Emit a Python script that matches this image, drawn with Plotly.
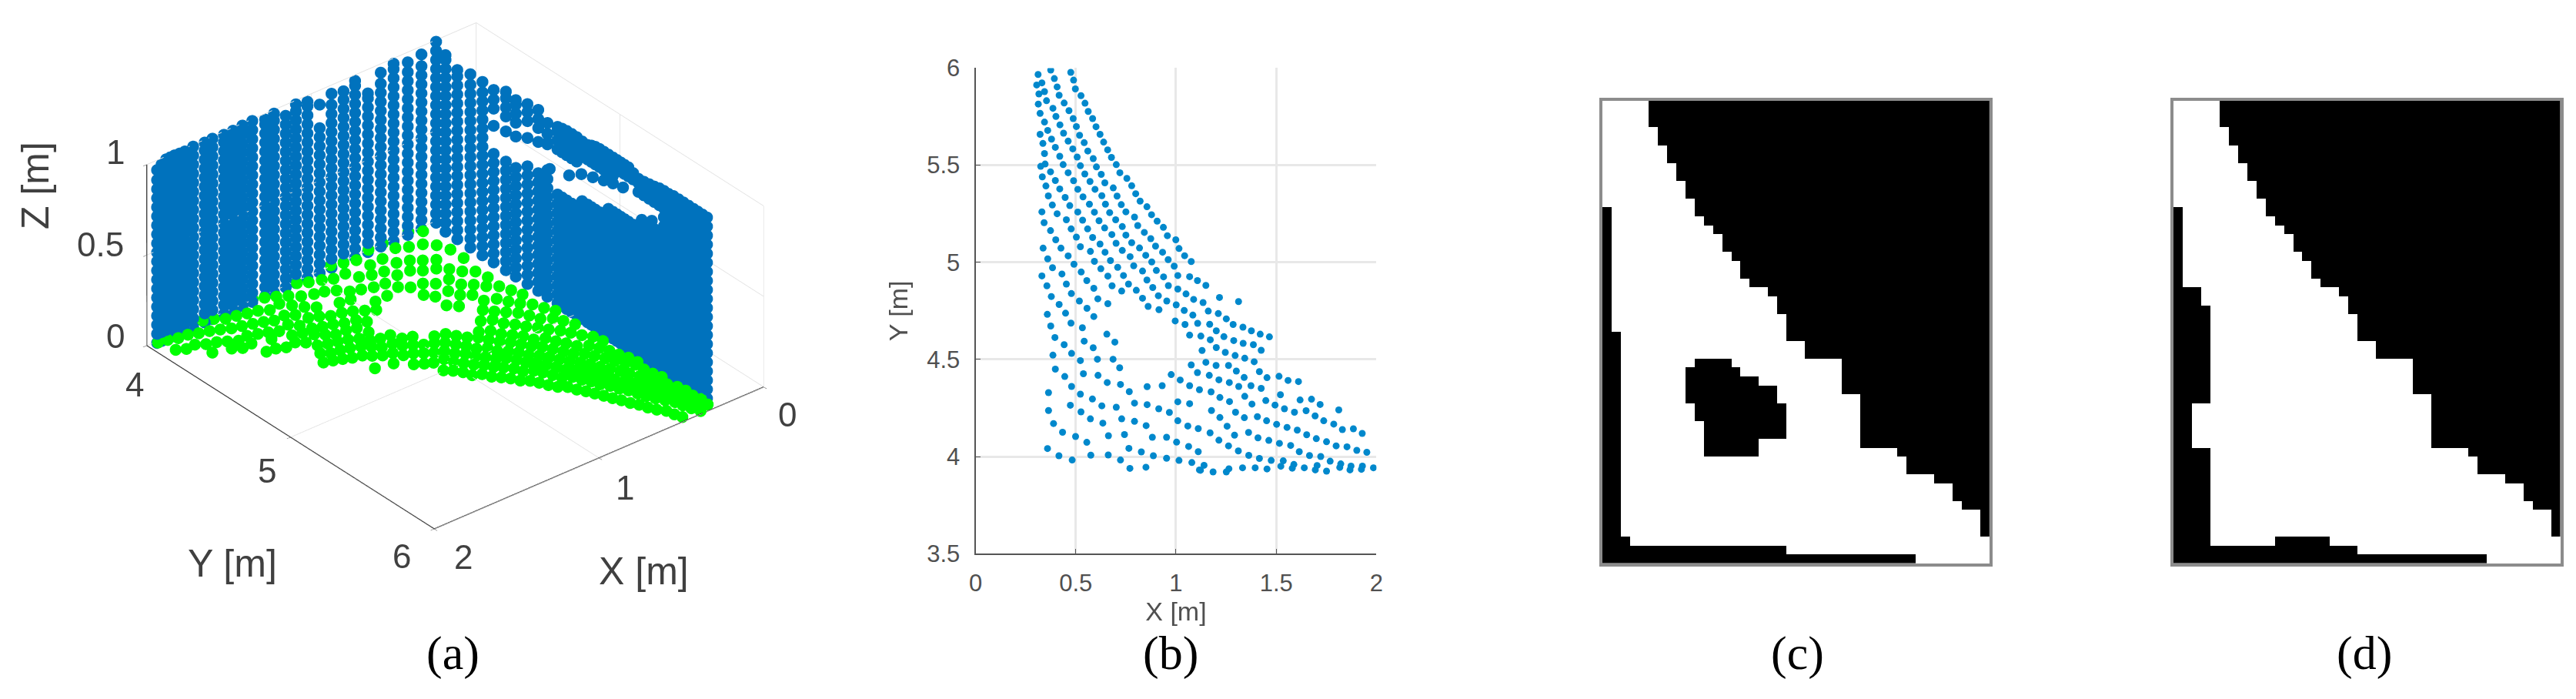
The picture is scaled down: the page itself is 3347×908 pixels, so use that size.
import plotly.graph_objects as go

W, H = 3347, 908

# floor points, metres
floor_x = [
    .475, .489, .498, .526, .546, .562, .584, .601, .621, .639, .659, .678, .702, .720, .755, .779, .799, .821, .855, .878,
    .906, .937, .957, .999, 1.015, 1.043, 1.076,
    .375, .393, .407, .417, .442, .466, .487, .503, .519, .542, .560, .587, .603, .627, .645, .687, .706, .727, .750, .793,
    .809, .842, .874, .898, .933,
    .312, .331, .305, .344, .316, .354, .313, .386, .322, .401, .344, .421, .360, .322, .439, .379, .462, .336, .398, .485,
    .344, .420, .507, .437, .347, .325, .523, .374, .462, .545, .333, .398, .489, .571, .351, .420, .510, .596, .363, .447,
    .536, .630, .383, .470, .568, .648, .331, .407, .510, .593, .669, .342, .453, .534, .616, .699, .374, .477, .559, .644,
    .732, .400, .503, .584, .680, .750, .337, .426, .523, .621, .701, .779, .462, .573, .646, .732, .818, .849, .771,
    .360, .593, .673, .879, .961, .491, .384, .625, .709, .789, .833, .902, .991, .331, .431, .527, .660, .738, .855, .938,
    1.009, 1.068, 1.107, .356, .453, .555, .590, .681, .763, .729, .802, .884, .962, 1.009, 1.050, 1.088, .378, .478, .518,
    .610, .660, .833, .912, .954, 1.001, 1.041, 1.084, .417, .556, .861, .915, .358, .449, .590, .996, 1.045, 1.108, .375,
    .476, .533, .655, 1.068, .396, .542, .695, .442, .587, .479, .386, .523, .608, .686, .398, .719, .445, .538, .611, .976,
    1.076, 1.107, .479, .657, .723, .856, .931, 1.021, 1.068, .364, .523, .767, .583, .793, .856, 1.009, 1.068, .473, .630,
    .702, .364, .526, .914, .967, .573, .729, .793, 1.009, .389, .635, .851, 1.059, 1.111, .434, .499, .663, .743, .882,
    .953, 1.003, 1.063, 1.111, .555, .765, .359, .827, .416, .662, .575, .887, .482, .723, .953, 1.015, 1.079, .770, .850,
    1.117, 1.149, 1.135, 1.217, 1.312, 1.161, 1.211, 1.251, 1.285, 1.168, 1.334, 1.376, 1.420, 1.466, 1.201, 1.124, 1.239,
    1.171, 1.288, 1.335, 1.386, 1.425, 1.130, 1.201, 1.246, 1.295, 1.343, 1.390, 1.149, 1.200, 1.262, 1.301, 1.416, 1.340,
    1.454, 1.514, 1.559, 1.611, 1.166, 1.214, 1.266, 1.313, 1.374, 1.425, 1.117, 1.175, 1.219, 1.267, 1.343, 1.521, 1.448,
    1.379, 1.494, 1.541, 1.591, 1.619, 1.676, 1.719, 1.649, 1.694, 1.812, 1.737, 1.787, 1.830, 1.885, 1.929, 1.177, 1.219,
    1.297, 1.341, 1.406, 1.452, 1.502, 1.554, 1.605, 1.652, 1.700, 1.751, 1.799, 1.853, 1.902, 1.952, 1.170, 1.255, 1.292,
    1.362, 1.409, 1.463, 1.516, 1.572, 1.615, 1.666, 1.722, 1.769, 1.214, 1.262, 1.311, 1.363, 1.416, 1.475, 1.535, 1.523,
    1.588, 1.580, 1.640, 1.704, 1.695, 1.751, 1.822, 1.817, 1.873, 1.868, 1.930, 1.925, 1.985, 1.395, 1.454, 1.332, 1.264,
    1.251, 1.140, 1.122, 1.185,
]
floor_y = [
    5.978, 5.938, 5.893, 5.858, 5.819, 5.777, 5.740, 5.698, 5.659, 5.619, 5.579, 5.540, 5.503, 5.461, 5.432, 5.394, 5.353,
    5.315, 5.286, 5.245, 5.212, 5.180, 5.137, 5.116, 5.071, 5.034, 5.004,
    5.990, 5.946, 5.903, 5.860, 5.820, 5.781, 5.740, 5.699, 5.654, 5.616, 5.573, 5.534, 5.491, 5.453, 5.409, 5.383, 5.341,
    5.297, 5.260, 5.233, 5.189, 5.154, 5.122, 5.083, 5.052,
    5.967, 5.924, 5.913, 5.879, 5.867, 5.832, 5.815, 5.793, 5.767, 5.751, 5.722, 5.708, 5.679, 5.659, 5.665, 5.634, 5.624,
    5.612, 5.592, 5.584, 5.560, 5.546, 5.542, 5.503, 5.506, 5.494, 5.497, 5.466, 5.461, 5.455, 5.440, 5.421, 5.420, 5.416,
    5.393, 5.378, 5.376, 5.376, 5.342, 5.334, 5.337, 5.343, 5.295, 5.292, 5.299, 5.299, 5.260, 5.250, 5.259, 5.258, 5.256,
    5.204, 5.219, 5.217, 5.214, 5.219, 5.163, 5.172, 5.172, 5.177, 5.184, 5.116, 5.130, 5.128, 5.143, 5.140, 5.073, 5.073,
    5.080, 5.094, 5.098, 5.101, 5.033, 5.056, 5.052, 5.061, 5.074, 5.036, 5.029,
    5.018, 5.005, 5.009, 5.002, 5.014, 4.990, 4.972, 4.967, 4.974, 4.982, 4.955, 4.958, 4.980, 4.930, 4.940, 4.950, 4.929,
    4.932, 4.909, 4.925, 4.932, 4.926, 4.906, 4.879, 4.888, 4.906, 4.866, 4.879, 4.888, 4.852, 4.856, 4.870, 4.880, 4.862,
    4.837, 4.809, 4.824, 4.839, 4.801, 4.812, 4.787, 4.815, 4.828, 4.801, 4.781, 4.752, 4.728, 4.783, 4.763, 4.773, 4.756,
    4.732, 4.738, 4.721, 4.698, 4.680, 4.686, 4.672, 4.687, 4.663, 4.630, 4.625, 4.613, 4.594, 4.589, 4.576, 4.560, 4.531,
    4.522, 4.494, 4.501, 4.501, 4.450, 4.457, 4.412, 4.426, 4.418, 4.422, 4.472, 4.432, 4.361, 4.381, 4.371, 4.360, 4.365,
    4.394, 4.365, 4.329, 4.321, 4.334, 4.296, 4.275, 4.267, 4.282, 4.272, 4.264, 4.261, 4.254, 4.237, 4.230, 4.246, 4.227,
    4.194, 4.194, 4.181, 4.184, 4.170, 4.172, 4.159, 4.157, 4.144, 4.125, 4.103, 4.107, 4.113, 4.099, 4.099, 4.074, 4.052,
    4.025, 4.073, 4.042, 4.041, 4.024, 4.004, 4.008, 4.007, 4.004, 3.982, 3.982, 3.991, 3.980, 3.969, 3.939, 3.945,
    3.931, 4.881, 4.793, 4.819, 4.798, 4.749, 4.736, 4.709, 4.680, 4.681, 4.666, 4.647, 4.630, 4.616, 4.647, 4.620, 4.617,
    4.601, 4.597, 4.583, 4.576, 4.547, 4.546, 4.561, 4.536, 4.520, 4.506, 4.488, 4.485, 4.469, 4.469, 4.440, 4.437, 4.407,
    4.406, 4.413, 4.392, 4.386, 4.418, 4.395, 4.381, 4.361, 4.365, 4.351, 4.344, 4.333, 4.304, 4.283, 4.310, 4.318, 4.288,
    4.270, 4.265, 4.246, 4.228, 4.291, 4.295, 4.268, 4.236, 4.209, 4.240, 4.184, 4.167, 4.139, 4.143, 4.119, 4.237, 4.201,
    4.228, 4.200, 4.205, 4.184, 4.166, 4.150, 4.136, 4.112, 4.092, 4.076, 4.055, 4.050, 4.032, 4.022, 4.122, 4.156, 4.110,
    4.124, 4.096, 4.083, 4.068, 4.057, 4.025, 4.005, 4.000, 3.976, 4.084, 4.055, 4.029, 4.006, 3.990, 3.980, 3.978, 3.950,
    3.959, 3.940, 3.942, 3.954, 3.931, 3.925, 3.962, 3.944, 3.951, 3.931, 3.951, 3.934, 3.942, 3.942, 3.936, 3.942, 3.937,
    3.921, 3.955, 3.929, 3.921,
]
floor_z = 0.01

# wall along y = 4: column x, top height, optional gap
wall_a_y = 4.01
wall_a_x = [1.947, 1.92, 1.892, 1.866, 1.841, 1.81, 1.778, 1.728, 1.658, 1.611, 1.541, 1.486, 1.429, 1.369, 1.291, 1.237,
            1.166, 1.104, 1.034, .96, .888, .815, .745, .667, .589, .511, .425, .342, .253]
wall_a_top = [.955, .975, .993, .994, .995, .993, .992, .999, .994, .997, .991, .992, .998, 1.0, .977, .989,
              .949, .988, .975, .93, .962, .947, .977, .877, .961, .98, .954, .965, 1.0]
wall_a_gap_low = [None] * 19 + [.83] + [None] * 9
wall_a_gap_high = [None] * 19 + [.91] + [None] * 9

# wall along x = 0.27: column y, top height, window gap
wall_b_x = .27
wall_b_y = [4.095, 4.177, 4.268, 4.352, 4.43, 4.515, 4.584, 4.665, 4.74, 4.804, 4.874, 4.906, 4.938, 4.973, 5.008, 5.045,
            5.083, 5.11, 5.137, 5.166, 5.196, 5.228, 5.26, 5.287, 5.314, 5.34, 5.367, 5.4, 5.437, 5.475, 5.512, 5.547, 5.582,
            5.614, 5.646, 5.68, 5.716, 5.75, 5.786, 5.82, 5.85, 5.882, 5.914]
wall_b_top = [.976, .935, .958, .958, .953, .987, .975, .994, 1.0, .96, .974, .98, .984, .985, .985, .98,
              .98, .99, .997, 1.0, 1.0, 1.0, 1.0, 1.0, 1.0, 1.0, 1.0, .985, .972, .975, .98, .985, .993,
              .995, .995, 1.0, 1.0, 1.0, 1.0, 1.0, 1.0, 1.0, 1.0]
wall_b_gap_low = [None, None, None, None, .63, .635, .64, .675, .695, .70, .60, .605, .61, .625, .64, .65,
                  .66, .67, .68, .685, .69, .70, .71, .715, .72, .73, .74, .735, .73, .745, .76, .77, .78,
                  None, None, None, None, None, None, None, None, None, None]
wall_b_gap_high = [None, None, None, None, .83, .84, .85, .855, .865, .85, .83, .835, .84, .845, .85, .86,
                   .866, .873, .88, .885, .89, .895, .90, .905, .91, .91, .91, .905, .90, .895, .89, .888, .885,
                   None, None, None, None, None, None, None, None, None, None]

# single rows of points left inside the window gap
frame_y = [4.43, 4.515, 4.584, 4.665, 4.74, 4.804, 4.82, 4.955, 5.04, 5.12, 5.196, 5.26, 5.33, 5.46, 5.53]
frame_z = [.755, .767, .774, .807, .823, .842, .714, .747, .797, .82, .841, .857, .87, .757, .787]

z_levels = [0, .05, .1, .15, .2, .25, .3, .35, .4, .45, .5, .55, .6, .65, .7, .75, .8, .85, .9, .95]

# 42 x 52 occupancy grids, one entry per row from the top
free_end = [5, 5, 5, 6, 6, 7, 7, 8, 8, 9, 9, 10, 10, 11, 12, 13, 13, 14, 15, 15, 16, 18, 19, 19, 20, 20, 20, 22, 22,
            26, 26, 26, 26, 28, 28, 28, 28, 28, 28, 32, 33, 33, 36, 38, 38, 39, 41, 41, 41, 42, 42, 42]
c_free_start = [0] * 12 + [1] * 14 + [2] * 23 + [3, 20, 34]
c_hole_row = [29, 30, 31, 32, 33, 34, 35, 36, 37, 38, 39]
c_hole_start = [10, 9, 9, 9, 9, 10, 10, 11, 11, 11, 11]
c_hole_end = [14, 15, 17, 19, 19, 20, 20, 20, 20, 17, 17]
d_free_start = [0] * 12 + [1] * 9 + [3] * 2 + [4] * 11 + [2] * 5 + [4] * 11 + [20, 34]
d_hole_row = [49]
d_hole_start = [11]
d_hole_end = [17]

b_xticks = [0, .5, 1, 1.5, 2]
b_xlabels = ["0", "0.5", "1", "1.5", "2"]
b_yticks = [3.5, 4, 4.5, 5, 5.5, 6]
b_ylabels = ["3.5", "4", "4.5", "5", "5.5", "6"]


def wall_column(top, low, high):
    levels = [z for z in z_levels if z < top - .02] + [top]
    if low is None:
        return levels
    return [z for z in levels if z <= low or z >= high]


def occupancy(free_start, hole_row, hole_start, hole_end):
    grid = []
    for r in range(52):
        row = [1 if free_start[r] <= c < free_end[r] else 0 for c in range(42)]
        if r in hole_row:
            i = hole_row.index(r)
            for c in range(hole_start[i], hole_end[i]):
                row[c] = 0
        grid.append(row)
    return grid


blue_x, blue_y, blue_z = [], [], []
for i in range(len(wall_a_x)):
    for z in wall_column(wall_a_top[i], wall_a_gap_low[i], wall_a_gap_high[i]):
        blue_x.append(wall_a_x[i])
        blue_y.append(wall_a_y)
        blue_z.append(z)
for i in range(len(wall_b_y)):
    for z in wall_column(wall_b_top[i], wall_b_gap_low[i], wall_b_gap_high[i]):
        blue_x.append(wall_b_x)
        blue_y.append(wall_b_y[i])
        blue_z.append(z)
for y, z in zip(frame_y, frame_z):
    blue_x.append(wall_b_x)
    blue_y.append(y)
    blue_z.append(z)

fig = go.Figure()

# (a) point cloud
fig.add_trace(go.Scatter3d(x=blue_x, y=blue_y, z=blue_z, mode="markers", showlegend=False,
                           marker=dict(size=9, color="#0072BD", line=dict(width=0))))
fig.add_trace(go.Scatter3d(x=floor_x, y=floor_y, z=[floor_z] * len(floor_x), mode="markers", showlegend=False,
                           marker=dict(size=9, color="#00FF00", line=dict(width=0))))

# (b) floor seen from above
fig.add_trace(go.Scatter(x=floor_x, y=floor_y, mode="markers", showlegend=False, xaxis="x", yaxis="y",
                         marker=dict(size=9, color="#0088CC")))

# (c) (d) grids
mono = [[0, "#000000"], [1, "#FFFFFF"]]
fig.add_trace(go.Heatmap(z=occupancy(c_free_start, c_hole_row, c_hole_start, c_hole_end), xaxis="x2", yaxis="y2",
                         colorscale=mono, zmin=0, zmax=1, showscale=False))
fig.add_trace(go.Heatmap(z=occupancy(d_free_start, d_hole_row, d_hole_start, d_hole_end), xaxis="x3", yaxis="y3",
                         colorscale=mono, zmin=0, zmax=1, showscale=False))

TXT = "#404040"
FONT = "Liberation Sans"


def scene_label(x, y, z, text, dx, dy, size=44, angle=0):
    return dict(x=x, y=y, z=z, text=text, showarrow=False, xshift=dx, yshift=-dy, textangle=angle,
                font=dict(family=FONT, size=size, color=TXT))


def scene_axis(rng, ticks):
    return dict(range=rng, autorange=False, tickvals=ticks, showticklabels=False, title=dict(text=""), ticks="outside",
                ticklen=6, tickcolor="#404040", showline=True, linecolor="#404040", linewidth=3, gridcolor="#E2E2E2",
                gridwidth=2, showbackground=False, zeroline=False, showspikes=False)


grid_axis = dict(showticklabels=False, ticks="", showgrid=False, zeroline=False, showline=True, mirror=True,
                 linecolor="#8C8C8C", linewidth=4)

fig.update_layout(
    width=W, height=H, autosize=False, showlegend=False, paper_bgcolor="white", plot_bgcolor="white",
    margin=dict(l=0, r=0, t=0, b=0),
    scene=dict(
        domain=dict(x=[77.5 / W, 1077.5 / W], y=[1 - 711 / H, 1]),
        aspectmode="manual", aspectratio=dict(x=1.62, y=1.72, z=.807),
        camera=dict(projection=dict(type="orthographic"), up=dict(x=0, y=0, z=1), center=dict(x=0, y=0, z=-.03),
                    eye=dict(x=1.09, y=1.326, z=1.026)),
        xaxis=scene_axis([0, 2], [0, 1, 2]),
        yaxis=scene_axis([4, 6], [4, 5, 6]),
        zaxis=scene_axis([0, 1], [0, .5, 1]),
        annotations=[
            scene_label(2, 4, 0, "4", -16, 51), scene_label(2, 5, 0, "5", -30, 44), scene_label(2, 5.99, 0, "6", -40, 37),
            scene_label(1.99, 5.99, 0, "2", 38, 39), scene_label(1, 5.99, 0, "1", 36, 40), scene_label(0, 5.99, 0, "0", 33, 37),
            scene_label(2, 4, 1, "1", -41, -16), scene_label(2, 4, .5, "0.5", -60, -14), scene_label(2, 4, 0, "0", -41, -12),
            scene_label(2, 5, 0, "Y [m]", -75, 164, 50), scene_label(1, 5.99, 0, "X [m]", 60, 149, 50),
            scene_label(2, 4, .5, "Z [m]", -145, -90, 50, -90),
        ],
    ),
    xaxis=dict(domain=[1257.3 / W, 1781 / W], range=[0, 2], tickvals=b_xticks, ticktext=b_xlabels, ticks="inside", ticklen=6,
               tickcolor="#555555", showgrid=True, gridcolor="#E8E8E8", gridwidth=3, zeroline=False, showline=True,
               linecolor="#555555", linewidth=2, ticklabelstandoff=10, tickfont=dict(family=FONT, size=31, color="#505050"),
               title=dict(text="X [m]", standoff=8, font=dict(family=FONT, size=34, color="#505050"))),
    yaxis=dict(domain=[1 - 722 / H, 1 - 66 / H], range=[3.5, 6], tickvals=b_yticks, ticktext=b_ylabels, ticks="inside",
               ticklen=6, tickcolor="#555555", showgrid=True, gridcolor="#E8E8E8", gridwidth=3, zeroline=False, showline=True,
               linecolor="#555555", linewidth=2, ticklabelstandoff=12, tickfont=dict(family=FONT, size=31, color="#505050"),
               title=dict(text="Y [m]", standoff=14, font=dict(family=FONT, size=34, color="#505050"))),
    xaxis2=dict(domain=[2076 / W, 2582 / W], range=[-.5, 41.5], anchor="y2", **grid_axis),
    yaxis2=dict(domain=[1 - 735 / H, 1 - 110 / H], range=[51.5, -.5], anchor="x2", **grid_axis),
    xaxis3=dict(domain=[2822 / W, 3327.5 / W], range=[-.5, 41.5], anchor="y3", **grid_axis),
    yaxis3=dict(domain=[1 - 735 / H, 1 - 110 / H], range=[51.5, -.5], anchor="x3", **grid_axis),
    annotations=[
        dict(x=cx / W, y=1 - 857 / H, xref="paper", yref="paper", xanchor="center", yanchor="middle", text=t, showarrow=False,
             font=dict(family="Liberation Serif", size=62, color="black"))
        for cx, t in zip([575, 1512, 2331, 3072], ["(a)", "(b)", "(c)", "(d)"])
    ],
)

fig.write_html("out.html")
